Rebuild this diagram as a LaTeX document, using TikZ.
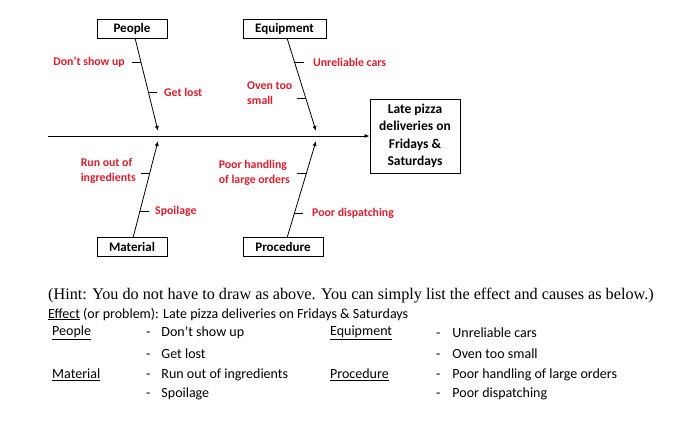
\documentclass[tikz,border=0pt]{standalone}
\usepackage{fontspec}
\setmainfont{Carlito}
\newfontfamily\hintfont{Liberation Serif}
\usetikzlibrary{arrows.meta}
\definecolor{causered}{RGB}{220,30,45}
\tikzset{
    cat/.style={draw, line width=1, font=\bfseries\fontsize{13}{14}\selectfont, minimum height=19, inner sep=1},
    cause/.style={text=causered, font=\bfseries\fontsize{11.8}{15.5}\selectfont, inner sep=1, align=left},
    bone/.style={line width=0.8, -{Latex[length=5,width=4]}},
    tick/.style={line width=0.8},
    row/.style={font=\fontsize{14}{16}\selectfont, anchor=west, inner sep=0}
}
\begin{document}
\begin{tikzpicture}[x=1pt,y=1pt]
        \useasboundingbox (0,0) rectangle (700,-421);

        % categories
        \node[cat, minimum width=70] (people) at (132,-28.5) {People};
        \node[cat, minimum width=83] (equip) at (284.5,-28.5) {Equipment};
        \node[cat, minimum width=70] (material) at (132,-247) {Material};
        \node[cat, minimum width=80] (proc) at (283,-247) {Procedure};
        \node[draw, line width=1, minimum width=90, minimum height=74, align=center, inner sep=1,
            font=\bfseries\fontsize{13.5}{17.5}\selectfont] (effect) at (415,-136) {Late pizza\\deliveries on\\Fridays \&\\Saturdays};

        % spine
        \coordinate (tail) at (48,-136);
        \draw[bone] (tail) -- (effect.west);

        % bones
        \coordinate (pe) at (158,-131);
        \coordinate (ee) at (316,-131);
        \coordinate (me) at (158,-141);
        \coordinate (re) at (316,-141);
        \draw[bone] (135,-38) -- (pe);
        \draw[bone] (287,-38) -- (ee);
        \draw[bone] (133,-238) -- (me);
        \draw[bone] (287,-238) -- (re);

        % ticks
        \draw[tick] (132,-62) -- (141,-62);
        \draw[tick] (148,-92) -- (157,-92);
        \draw[tick] (294.5,-62) -- (304,-62);
        \draw[tick] (297,-98) -- (306,-98);
        \draw[tick] (141,-173) -- (150,-173);
        \draw[tick] (140,-211) -- (149,-211);
        \draw[tick] (297,-173) -- (306.5,-173);
        \draw[tick] (294.5,-213) -- (303,-213);

        % causes
        \node[cause, anchor=east] (c1) at (126,-62) {Don’t show up};
        \node[cause, anchor=west] (c2) at (163,-92) {Get lost};
        \node[cause, anchor=west] (c3) at (312,-62) {Unreliable cars};
        \node[cause, anchor=west] (c4) at (246,-93) {Oven too\\small};
        \node[cause, anchor=east, align=left] (c5) at (137,-171) {Run out of\\ingredients};
        \node[cause, anchor=west] (c6) at (154,-211) {Spoilage};
        \node[cause, anchor=east, align=left] (c7) at (291,-173) {Poor handling\\of large orders};
        \node[cause, anchor=west] (c8) at (311,-213) {Poor dispatching};

        % -----------------------------------------------------

        \node[anchor=west, inner sep=0, font=\hintfont\fontsize{16.2}{18}\selectfont] (hint) at (48,-296)
            {(Hint: You do not have to draw as above. You can simply list the effect and causes as below.)};
        \node[row] (eff) at (48,-314) {\underline{Effect} (or problem): Late pizza deliveries on Fridays \& Saturdays};

        \node[row] (l1) at (52,-333) {\underline{People}};
        \node[row] (l2) at (52,-375) {\underline{Material}};
        \node[row] (l3) at (330,-333) {\underline{Equipment}};
        \node[row] (l4) at (330,-375) {\underline{Procedure}};

        \foreach \y/\txt in {333/Don’t show up, 354/Get lost, 375/Run out of ingredients, 394/Spoilage}
            \node[row] at (146,-\y) {-\hspace{11pt}\txt};
        \foreach \y/\txt in {333/Unreliable cars, 354/Oven too small, 375/Poor handling of large orders, 394/Poor dispatching}
            \node[row] at (436,-\y) {-\hspace{12pt}\txt};
    \end{tikzpicture}
\end{document}
